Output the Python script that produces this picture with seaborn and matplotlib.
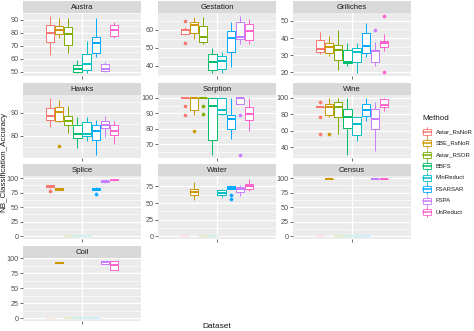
import numpy as np
import pandas as pd
import matplotlib
matplotlib.use("Agg")
import matplotlib.pyplot as plt
import matplotlib.colors as mcolors
import seaborn as sns
from matplotlib.patches import Rectangle

# ---------------- data ----------------
methods = ["Astar_RsNoR", "SBE_RsNoR", "Astar_RSOR", "BBFS",
           "MinReduct", "FSARSAR", "FSPA", "UnReduct"]
colors = ["#F8766D", "#CD9600", "#7CAE00", "#00BE67",
          "#00BFC4", "#00A9FF", "#C77CFF", "#FF61CC"]
datasets = ["Austra", "Gestation", "Griliches", "Hawks", "Sorption",
            "Wine", "Splice", "Water", "Census", "Coil"]

austra = [
    [62.8, 69.4, 72.8, 76.1, 79.5, 82.6, 85.9, 88.4, 92.8],
    [75.7, 77.5, 78.8, 81.2, 82.0, 83.6, 84.9, 87.0, 91.5],
    [64.0, 67.8, 70.5, 76.4, 79.2, 81.7, 83.9, 87.1, 91.5],
    [48.8, 49.3, 49.8, 51.0, 52.3, 53.9, 55.2, 57.0, 59.2],
    [48.8, 50.1, 51.3, 53.8, 56.2, 59.6, 63.4, 67.5, 73.6],
    [61.5, 63.2, 64.6, 69.1, 72.3, 74.5, 76.2, 82.8, 91.5],
    [49.5, 50.2, 50.8, 51.4, 52.1, 54.0, 55.7, 56.6, 57.7],
    [75.7, 76.8, 77.7, 80.0, 82.1, 83.9, 85.4, 86.9, 88.2],
]
gestation = [
    [52.6, 57.3, 58.0, 58.0, 59.0, 59.8, 60.2, 60.6, 60.6, 61.4, 65.0],
    [54.7, 56.8, 58.5, 61.0, 62.7, 63.8, 64.6, 66.0, 67.5],
    [51.9, 52.6, 53.2, 54.9, 56.3, 59.4, 62.2, 65.0, 67.5],
    [35.8, 36.9, 37.8, 40.1, 42.0, 44.5, 46.8, 48.2, 49.9],
    [35.8, 36.8, 38.0, 40.6, 42.7, 44.0, 45.3, 46.3, 47.4],
    [39.5, 43.5, 47.4, 51.8, 55.6, 57.6, 59.6, 62.0, 64.6],
    [51.9, 53.4, 54.8, 55.5, 56.3, 60.5, 64.4, 66.1, 67.9],
    [52.3, 53.4, 54.5, 57.2, 59.5, 61.4, 63.1, 64.8, 66.4],
]
griliches = [
    [30.6, 31.1, 31.6, 32.6, 33.5, 36.2, 38.8, 41.2, 43.6],
    [29.7, 30.5, 31.2, 32.9, 34.5, 35.8, 37.0, 38.9, 40.9],
    [21.5, 24.4, 27.3, 30.2, 33.1, 34.6, 36.0, 40.4, 44.8],
    [23.4, 24.3, 25.2, 25.7, 26.2, 29.6, 33.1, 35.0, 37.0],
    [19.4, 22.6, 25.8, 28.7, 31.6, 32.8, 33.9, 35.3, 36.8],
    [28.7, 29.9, 31.2, 33.4, 35.5, 39.1, 42.8, 45.7, 48.7],
    [23.8, 24.8, 25.8, 25.8, 32.6, 32.6, 33.1, 33.1, 37.4, 44.9],
    [20.2, 32.6, 34.5, 34.5, 35.6, 36.8, 37.6, 38.4, 38.4, 42.3, 53.0],
]
hawks = [
    [84.1, 85.6, 87.0, 87.8, 88.7, 90.4, 92.0, 94.3, 96.6],
    [75.6, 85.9, 86.7, 86.7, 90.6, 90.6, 92.7, 92.7, 94.0, 95.6],
    [81.3, 83.0, 84.6, 85.6, 86.6, 87.7, 88.7, 90.9, 93.0],
    [74.6, 76.8, 78.9, 80.0, 81.0, 82.8, 84.6, 86.5, 88.4],
    [77.7, 78.8, 79.9, 80.4, 81.0, 83.5, 85.9, 87.2, 88.4],
    [71.6, 74.9, 78.1, 80.1, 82.0, 83.5, 84.9, 86.0, 87.0],
    [79.4, 81.4, 83.4, 84.0, 84.6, 85.5, 86.3, 87.5, 88.7],
    [76.6, 78.5, 80.3, 81.2, 82.0, 83.5, 84.9, 85.6, 86.3],
]
sorption = [
    [89.1, 94.9, 100, 100, 100, 100, 100, 100, 100, 100, 100],
    [78.9, 89.1, 92.3, 92.3, 100, 100, 100, 100, 100, 100],
    [89.6, 94.9, 100, 100, 100, 100, 100, 100, 100, 100, 100],
    [63.0, 68.0, 72.8, 85.0, 94.9, 98.0, 100, 100, 100],
    [89.0, 89.4, 89.8, 90.8, 91.9, 96.0, 100, 100, 100],
    [73.2, 76.7, 80.2, 83.4, 86.6, 87.8, 89.1, 94.5, 100],
    [63.0, 89.1, 96.2, 96.2, 98.0, 100, 100, 100, 100, 100, 100],
    [78.5, 82.0, 85.5, 87.6, 89.6, 91.7, 93.8, 97.0, 100],
]
wine = [
    [56.4, 77.2, 88.8, 88.8, 88.8, 88.8, 88.8, 88.8, 88.8, 88.8, 88.8, 94.4],
    [56.4, 77.2, 78.8, 78.8, 88.8, 88.8, 92.4, 92.4, 96.0, 100],
    [56.4, 67.0, 77.2, 83.0, 88.8, 92.0, 94.4, 97.0, 100],
    [30.4, 47.0, 63.6, 70.0, 77.2, 82.0, 86.4, 93.0, 100],
    [47.6, 51.0, 54.4, 61.0, 68.0, 72.5, 77.2, 77.2, 77.2],
    [71.6, 75.0, 78.4, 82.0, 85.6, 89.0, 92.8, 96.5, 100],
    [35.6, 49.0, 62.4, 68.4, 74.4, 80.4, 86.4, 90.4, 94.4],
    [84.0, 86.2, 88.4, 90.0, 91.6, 95.0, 98.8, 99.4, 100],
]
splice = [
    [78.7, 83.8, 84.5, 84.5, 86.0, 86.0, 87.5, 87.5, 88.2, 88.8],
    [79.0, 79.5, 80.0, 80.5, 81.0, 81.7, 82.5, 83.0, 83.5],
    [0, 0, 0],
    [0, 0, 0],
    [0, 0, 0],
    [73.2, 79.0, 80.0, 80.0, 82.0, 82.0, 83.3, 83.3, 84.0, 84.5],
    [91.0, 92.2, 93.0, 93.8, 94.5, 95.0, 95.5, 96.0, 96.5],
    [95.5, 96.0, 96.3, 96.8, 97.2, 97.6, 98.0, 98.4, 98.8],
]
water = [
    [0, 0, 0],
    [54.0, 58.0, 62.5, 64.5, 66.5, 69.0, 71.5, 76.0, 81.5],
    [0, 0, 0],
    [0, 0, 0],
    [59.0, 60.8, 62.5, 64.0, 65.5, 67.3, 69.0, 70.2, 71.5],
    [55.5, 61.5, 70.5, 70.5, 71.5, 72.5, 73.8, 75.0, 75.0, 75.5, 76.0],
    [60.0, 63.5, 67.0, 69.0, 71.0, 72.5, 74.0, 75.5, 77.0],
    [68.0, 69.8, 71.5, 73.8, 76.0, 77.5, 79.0, 82.8, 86.5],
]
census = [
    [0, 0, 0],
    [97.8, 98.0, 98.1, 98.2, 98.2, 98.3, 98.4, 98.5, 98.6],
    [0, 0, 0],
    [0, 0, 0],
    [0, 0, 0],
    [0, 0, 0],
    [97.8, 98.0, 98.1, 98.2, 98.2, 98.3, 98.4, 98.5, 98.6],
    [97.8, 98.0, 98.1, 98.2, 98.2, 98.3, 98.4, 98.5, 98.6],
]
coil = [
    [0, 0, 0],
    [92.0, 92.3, 92.5, 92.8, 93.0, 93.2, 93.5, 93.8, 94.0],
    [0, 0, 0],
    [0, 0, 0],
    [0, 0, 0],
    [0, 0, 0],
    [91.0, 91.3, 91.5, 92.5, 93.5, 94.5, 95.5, 95.6, 95.8],
    [80.0, 80.5, 81.0, 85.0, 88.5, 92.0, 95.5, 95.8, 96.0],
]
values_by_dataset = [austra, gestation, griliches, hawks, sorption,
                     wine, splice, water, census, coil]

ticks_austra = [50, 60, 70, 80, 90]
ticks_gestation = [40, 50, 60]
ticks_griliches = [20, 30, 40, 50]
ticks_hawks = [80, 90]
ticks_sorption = [70, 80, 90, 100]
ticks_wine = [40, 60, 80, 100]
ticks_splice = [0, 25, 50, 75, 100]
ticks_water = [0, 25, 50, 75]
ticks_census = [0, 25, 50, 75, 100]
ticks_coil = [0, 25, 50, 75, 100]
ticks_by_dataset = [ticks_austra, ticks_gestation, ticks_griliches, ticks_hawks,
                    ticks_sorption, ticks_wine, ticks_splice, ticks_water,
                    ticks_census, ticks_coil]

# ---------------- layout ----------------
plt.rcParams["font.family"] = ["Liberation Sans", "DejaVu Sans"]
W, H = 474, 331
fig = plt.figure(figsize=(W / 100, H / 100), dpi=100)
fig.patch.set_facecolor("white")

col_left = [23, 158, 293]
row_top = [1, 83, 164, 246]
panel_w, strip_h, panel_h = 118, 12, 63
PANEL_BG = "#EBEBEB"
STRIP_BG = "#D9D9D9"
TICK_COL = "#4D4D4D"


def px_axes(x, y, w, h):
    return fig.add_axes([x / W, 1 - (y + h) / H, w / W, h / H])


def pale(c, f=0.8):
    r, g, b = mcolors.to_rgb(c)
    return (r + (1 - r) * f, g + (1 - g) * f, b + (1 - b) * f)


for i, name in enumerate(datasets):
    r, c = divmod(i, 3)
    x0, y0 = col_left[c], row_top[r]

    # strip
    sax = px_axes(x0, y0, panel_w, strip_h)
    sax.set_facecolor(STRIP_BG)
    sax.set_xticks([]); sax.set_yticks([])
    for s in sax.spines.values():
        s.set_visible(False)
    sax.text(0.5, 0.48, name, ha="center", va="center", fontsize=5.6,
             color="#1A1A1A", transform=sax.transAxes)

    # panel
    ax = px_axes(x0, y0 + strip_h, panel_w, panel_h)
    ax.set_facecolor(PANEL_BG)
    rows = []
    for m, vals in zip(methods, values_by_dataset[i]):
        for v in vals:
            rows.append({"x": "d", "Method": m, "value": v})
    df = pd.DataFrame(rows)

    common = dict(data=df, x="x", y="value", hue="Method", hue_order=methods,
                  width=0.75, gap=0.1, legend=False, ax=ax, saturation=1,
                  showcaps=False, whis=1.5)
    # white box fill underneath
    sns.boxplot(palette=["white"] * len(methods), fill=True, linewidth=0,
                linecolor="white", showfliers=False, **common)
    # coloured outlines on top
    sns.boxplot(palette=colors, fill=False, linewidth=0.7,
                medianprops=dict(linewidth=1.4),
                flierprops=dict(marker="o", markersize=2.3, markeredgewidth=0.3),
                **common)
    for ln in ax.lines:
        if ln.get_marker() == "o":
            ln.set_markerfacecolor(ln.get_markeredgecolor())
        yd = np.asarray(ln.get_ydata(), float)
        if yd.size and np.allclose(yd, 0):
            ln.set_color(pale(ln.get_color()))
    for p in ax.patches:
        ext = p.get_path().vertices
        if ext.size and np.allclose(p.get_transform().transform(ext)[:, 1],
                                    p.get_transform().transform(ext)[0, 1]):
            p.set_edgecolor(pale(p.get_edgecolor()))

    allv = np.concatenate([np.asarray(v, float) for v in values_by_dataset[i]])
    lo, hi = allv.min(), allv.max()
    pad = 0.05 * (hi - lo)
    ax.set_ylim(lo - pad, hi + pad)
    ax.set_xlim(-0.6, 0.6)

    ticks = ticks_by_dataset[i]
    step = ticks[1] - ticks[0]
    minor = [t + step / 2 for t in [ticks[0] - step] + ticks]
    minor = [m for m in minor if lo - pad <= m <= hi + pad]
    ax.set_yticks(ticks)
    ax.set_yticklabels([str(t) for t in ticks])
    ax.set_yticks(minor, minor=True)
    ax.set_xticks([0])
    ax.set_xticklabels([""])
    ax.grid(which="major", color="white", linewidth=0.9)
    ax.grid(which="minor", axis="y", color="white", linewidth=0.45)
    ax.set_axisbelow(True)
    ax.tick_params(which="major", length=2, width=0.5, color="#333333",
                   labelsize=5.2, labelcolor=TICK_COL, pad=1.0)
    ax.tick_params(which="minor", length=0)
    ax.set_xlabel("")
    ax.set_ylabel("")
    for s in ax.spines.values():
        s.set_visible(False)

# ---------------- axis titles ----------------
fig.text(4.0 / W, 1 - 162 / H, "NB_Classification_Accuracy", rotation=90,
         ha="center", va="center", fontsize=5.8, color="#1A1A1A")
fig.text(217 / W, 1 - 326 / H, "Dataset", ha="center", va="center",
         fontsize=6.0, color="#1A1A1A")

# ---------------- legend ----------------
lax = fig.add_axes([0, 0, 1, 1], facecolor="none")
lax.set_xlim(0, W)
lax.set_ylim(H, 0)
lax.axis("off")
lax.text(422, 118, "Method", ha="left", va="center", fontsize=5.8,
         color="#1A1A1A")
for k, (m, col) in enumerate(zip(methods, colors)):
    cy = 131.7 + k * 11.5
    kx0, kx1 = 423.5, 431.5
    lax.add_patch(Rectangle((kx0, cy - 3.0), kx1 - kx0, 6.0, facecolor="white",
                            edgecolor=col, linewidth=0.6))
    lax.plot([kx0, kx1], [cy, cy], color=col, linewidth=1.1)
    xm = (kx0 + kx1) / 2
    lax.plot([xm, xm], [cy - 5.0, cy - 3.0], color=col, linewidth=0.6)
    lax.plot([xm, xm], [cy + 3.0, cy + 5.0], color=col, linewidth=0.6)
    lax.text(435.5, cy, m, ha="left", va="center", fontsize=4.3, color="#1A1A1A")

fig.savefig("out.png", dpi=100)
